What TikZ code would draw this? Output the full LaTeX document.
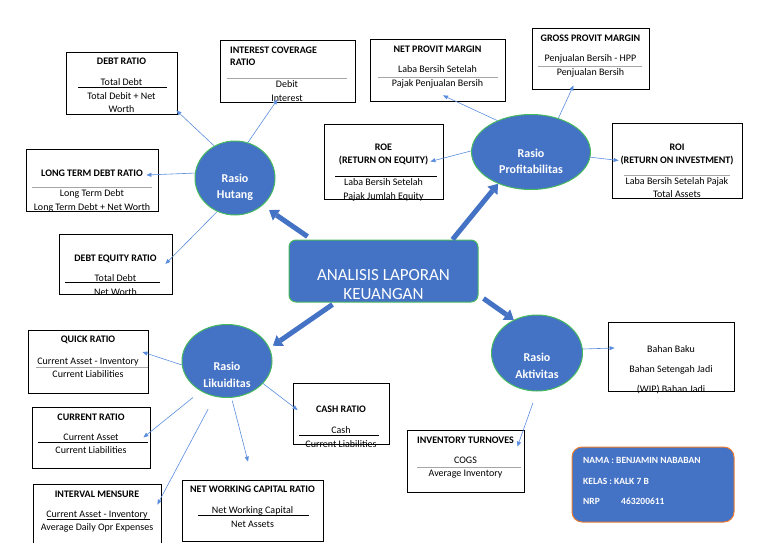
\documentclass[tikz,border=0pt]{standalone}
\usepackage{fontspec}
\setmainfont{Carlito}
\usetikzlibrary{arrows.meta}
\usetikzlibrary{shapes.geometric}

\definecolor{oblue}{RGB}{68,114,196}
\definecolor{lblue}{RGB}{91,141,222}
\definecolor{rgreen}{RGB}{70,185,95}
\definecolor{oorange}{RGB}{237,125,49}

\begin{document}
\begin{tikzpicture}[x=1pt,y=-1pt,
  box/.style={draw, line width=0.8pt, inner sep=0pt},
  ttl/.style={font=\fontsize{10}{12.5}\selectfont\bfseries, inner sep=0pt, align=center, anchor=north},
  txt/.style={font=\fontsize{10}{13.5}\selectfont, inner sep=0pt, align=center, anchor=north},
  rasio/.style={ellipse, fill=oblue, draw=rgreen, line width=1pt, inner sep=0pt},
  rtxt/.style={text=white, font=\fontsize{12}{16.5}\selectfont\bfseries, align=center, inner sep=0pt},
  frac/.style={line width=0.7pt},
  fracg/.style={line width=0.7pt, draw=black!35},
  tipis/.style={draw=lblue, line width=0.6pt, -{Triangle[length=5pt,width=4pt]}},
  tebal/.style={draw=oblue, line width=5pt, -{Triangle[length=9pt,width=13pt,line width=0pt]}}]
\useasboundingbox (0,0) rectangle (768,543);

% pusat
\node[box, fill=oblue, draw=rgreen, line width=1pt, rounded corners=7pt, minimum width=189pt, minimum height=62pt] (cen) at (383.5,271) {};
\node[text=white, font=\fontsize{17}{19}\selectfont, align=center, inner sep=0pt] (cenT) at (383.5,284.5) {ANALISIS LAPORAN\\KEUANGAN};

% rasio
\node[rasio, minimum width=80pt, minimum height=74pt] (hut) at (235,178) {};
\node[rtxt] (hutT) at (235,187.5) {Rasio\\Hutang};
\node[rasio, minimum width=119pt, minimum height=75pt] (prof) at (531,152) {};
\node[rtxt] (profT) at (531,161.5) {Rasio\\Profitabilitas};
\node[rasio, minimum width=90pt, minimum height=73pt] (liku) at (227,361) {};
\node[rtxt] (likuT) at (227,375) {Rasio\\Likuiditas};
\node[rasio, minimum width=91pt, minimum height=76pt] (akt) at (537,353) {};
\node[rtxt] (aktT) at (537,366) {Rasio\\Aktivitas};

% kotak hutang
\node[box, minimum width=111pt, minimum height=62pt] (debtr) at (121.5,83) {};
\node[ttl] (debtrJ) at (121.5,58) {DEBT RATIO};
\node[txt] (debtrI) at (121.5,78.5) {Total Debt\\Total Debit + Net\\Worth};
\draw[frac] (78,87) -- (167,87);

\node[box, minimum width=135pt, minimum height=62pt] (icr) at (287.5,71) {};
\node[ttl, anchor=north west, align=left] (icrJ) at (230,46.5) {INTEREST COVERAGE\\RATIO};
\node[txt] (icrI) at (287,80.5) {Debit\\Interest};
\draw[fracg] (227,78) -- (347,78);

\node[box, minimum width=132pt, minimum height=62pt] (ltdr) at (92,180) {};
\node[ttl] (ltdrJ) at (92,170) {LONG TERM DEBT RATIO};
\node[txt] (ltdrI) at (92,189.5) {Long Term Debt\\Long Term Debt + Net Worth};
\draw[fracg] (32,187) -- (152,187);

\node[box, minimum width=113pt, minimum height=60pt] (der) at (115.5,264) {};
\node[ttl] (derJ) at (115.5,255) {DEBT EQUITY RATIO};
\node[txt] (derI) at (115.5,274.5) {Total Debt\\Net Worth};
\draw[frac] (65,282) -- (160,282);

% kotak likuiditas
\node[box, minimum width=120pt, minimum height=63pt] (quick) at (88,361.5) {};
\node[ttl] (quickJ) at (88,336) {QUICK RATIO};
\node[txt] (quickI) at (88,357.5) {Current Asset - Inventory\\Current Liabilities};
\draw[fracg] (36,367) -- (148,367);

\node[box, minimum width=118pt, minimum height=61pt] (curr) at (91,437.5) {};
\node[ttl] (currJ) at (91,414) {CURRENT RATIO};
\node[txt] (currI) at (91,433.5) {Current Asset\\Current Liabilities};
\draw[frac] (38,442) -- (148,442);

\node[box, minimum width=128pt, minimum height=66pt] (intv) at (97,517) {};
\node[ttl] (intvJ) at (97,491) {INTERVAL MENSURE};
\node[txt] (intvI) at (97,510.5) {Current Asset - Inventory\\Average Daily Opr Expenses};
\draw[frac] (47,519) -- (150,519);

\node[box, minimum width=141pt, minimum height=61pt] (nwc) at (252.5,510.5) {};
\node[ttl] (nwcJ) at (252.5,486) {NET WORKING CAPITAL RATIO};
\node[txt] (nwcI) at (252.5,506.5) {Net Working Capital\\Net Assets};
\draw[frac] (198,515) -- (309,515);

\node[box, minimum width=96pt, minimum height=61pt] (cash) at (341,413.5) {};
\node[ttl] (cashJ) at (341,406) {CASH RATIO};
\node[txt] (cashI) at (341,426.5) {Cash\\Current Liabilities};
\draw[frac] (299,435) -- (379,435);

% kotak profitabilitas
\node[box, minimum width=135pt, minimum height=62pt] (npm) at (437.5,70) {};
\node[ttl] (npmJ) at (437.5,46) {NET PROVIT MARGIN};
\node[txt] (npmI) at (437.5,65.5) {Laba Bersih Setelah\\Pajak Penjualan Bersih};
\draw[fracg] (378,77) -- (498,77);

\node[box, minimum width=117pt, minimum height=61pt] (gpm) at (590.5,58.5) {};
\node[ttl] (gpmJ) at (590.5,35) {GROSS PROVIT MARGIN};
\node[txt] (gpmI) at (590.5,54.5) {Penjualan Bersih - HPP\\Penjualan Bersih};
\draw[fracg] (538,66) -- (642,66);

\node[box, minimum width=119pt, minimum height=75pt] (roe) at (383.5,161.5) {};
\node[ttl] (roeJ) at (383.5,144) {ROE\\(RETURN ON EQUITY)};
\node[txt] (roeI) at (383.5,178.5) {Laba Bersih Setelah\\Pajak Jumlah Equity};
\draw[frac] (335,176) -- (437,176);

\node[box, minimum width=130pt, minimum height=75pt] (roi) at (677,160.5) {};
\node[ttl] (roiJ) at (677,144) {ROI\\(RETURN ON INVESTMENT)};
\node[txt] (roiI) at (677,177) {Laba Bersih Setelah Pajak\\Total Assets};
\draw[fracg] (624,175) -- (730,175);

% kotak aktivitas
\node[box, minimum width=126pt, minimum height=69pt] (bahan) at (671,356.5) {};
\node[txt, font=\fontsize{10}{20}\selectfont] (bahanI) at (671,345.5) {Bahan Baku\\Bahan Setengah Jadi\\(WIP) Bahan Jadi};

\node[box, minimum width=117pt, minimum height=62pt] (invt) at (465.5,461) {};
\node[ttl] (invtJ) at (465.5,437) {INVENTORY TURNOVES};
\node[txt] (invtI) at (465.5,456.5) {COGS\\Average Inventory};
\draw[fracg] (417,467) -- (521,467);

% identitas
\node[box, fill=oblue, draw=oorange, line width=1pt, rounded corners=10pt, minimum width=162pt, minimum height=75pt] (nama) at (653,484.5) {};
\node[anchor=north west, text=white, font=\fontsize{9.5}{20.5}\selectfont\bfseries, align=left, inner sep=0pt] (namaT) at (583,457.5) {NAMA : BENJAMIN NABABAN\\KELAS : KALK 7 B\\\makebox[38pt][l]{NRP}463200611};

% panah tebal
\draw[tebal, shorten >=8pt] ([xshift=19pt,yshift=3pt]cen.north west) -- (hut.-45);
\draw[tebal] ([xshift=-26pt]cen.north east) -- (prof.224);
\draw[tebal, shorten >=4pt] ([xshift=44pt,yshift=-2pt]cen.south west) -- (liku.17);
\draw[tebal] ([xshift=5pt,yshift=4pt]cen.south east) -- (akt.125);

% panah tipis
\draw[tipis] (hut.123) -- ([xshift=-1pt,yshift=4pt]debtr.south east);
\draw[tipis] (hut.70) -- ([xshift=-10pt,yshift=3pt]icr.south);
\draw[tipis] (hut.173) -- ([xshift=-12pt,yshift=5pt]ltdr.east);
\draw[tipis] (hut.242) -- ([xshift=-7pt]der.east);

\draw[tipis] (prof.137) -- ([xshift=5.5pt,yshift=6pt]npm.south);
\draw[tipis] (prof.51) -- ([xshift=-17pt,yshift=4pt]gpm.south);
\draw[tipis] (prof.179) -- ([xshift=-13pt]roe.east);
\draw[tipis] (prof.-5) -- ([xshift=7pt]roi.west);

\draw[tipis] (liku.185) -- ([xshift=-6pt,yshift=9.5pt]quick.east);
\draw[tipis, shorten <=10pt] (liku.229) -- ([xshift=-7pt]curr.east);
\draw[tipis, shorten <=14pt] (liku.251) -- ([xshift=-4pt,yshift=-21pt]intv.north east);
\draw[tipis, shorten <=3pt] (liku.277) -- ([xshift=-4.5pt,yshift=18pt]nwc.north);
\draw[tipis] (liku.328) -- ([xshift=5pt,yshift=3.5pt]cash.west);

\draw[tipis] (akt.5) -- ([xshift=7pt,yshift=8.5pt]bahan.west);
\draw[tipis, shorten <=12pt] (akt.south) -- ([xshift=-7pt,yshift=-17pt]invt.north east);
\end{tikzpicture}
\end{document}
